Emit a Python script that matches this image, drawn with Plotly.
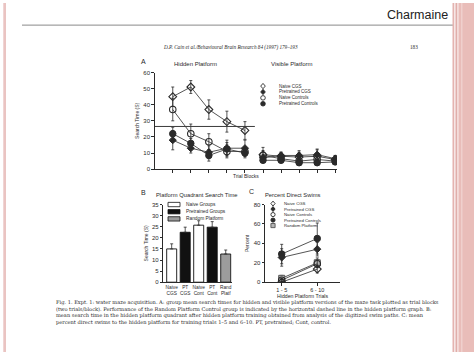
import plotly.graph_objects as go

W, H = 474, 355


def px(x):
    return x / W


def py(y):
    return 1 - y / H


# ---------------- data ----------------
series_names = ["Naive CGS", "Pretrained CGS", "Naive Controls", "Pretrained Controls"]
hidden_blocks = [1, 2, 3, 4, 5]
visible_blocks = [6, 7, 8, 9, 10]

hidden_naive_cgs = [45, 51, 37, 29.5, 24]
hidden_naive_cgs_err = [6, 4, 6, 6.5, 5.5]
hidden_pt_cgs = [18, 13, 10.5, 13, 13]
hidden_pt_cgs_err = [6, 3, 4, 5, 5]
hidden_naive_cont = [37, 22, 17, 11, 11]
hidden_naive_cont_err = [7, 6, 5, 4, 3]
hidden_pt_cont = [22, 16, 8.5, 12.5, 10]
hidden_pt_cont_err = [4, 3, 3.5, 4, 3]

visible_naive_cgs = [9, 8, 7.5, 8, 6]
visible_naive_cgs_err = [4.5, 2.5, 3, 4.5, 2.5]
visible_pt_cgs = [7, 8.5, 8.5, 9, 6.5]
visible_pt_cgs_err = [2, 2, 3, 3, 2]
visible_naive_cont = [8.5, 6.5, 5, 6, 5]
visible_naive_cont_err = [3, 2, 2, 2, 2]
visible_pt_cont = [5.5, 5.5, 4, 4, 4.5]
visible_pt_cont_err = [1.5, 1.5, 1.5, 1.5, 1.5]

random_platform_search_time = 26.5
random_line_blocks = [0, 5.55]

quad_groups = ["Naive<br>CGS", "PT<br>CGS", "Naive<br>Cont", "PT<br>Cont", "Rand<br>Platf"]
quad_positions = [1, 2, 3, 4, 5]
quad_values = [15, 22.5, 25.7, 24.8, 12.7]
quad_err = [2.3, 2.3, 2.0, 2.5, 1.8]
quad_legend = ["Naive Groups", "Pretrained Groups", "Random Platform"]

swim_trials = ["1 - 5", "6 - 10"]
swim_positions = [1, 2]
swim_names = ["Naive CGS", "Pretrained CGS", "Naive Controls", "Pretrained Controls", "Random Platform"]
swim_naive_cgs = [0, 13.5]
swim_naive_cgs_err = [1, 4]
swim_pt_cgs = [25.5, 34]
swim_pt_cgs_err = [9, 7]
swim_naive_cont = [2, 19]
swim_naive_cont_err = [2, 4]
swim_pt_cont = [29, 45]
swim_pt_cont_err = [10, 16]
swim_random = [4, 20]
swim_random_err = [3, 5]

# ---------------- styles ----------------
INK = "#2a2a2a"
SANS = "Liberation Sans, Arial, sans-serif"
SERIF = "Liberation Serif, Times New Roman, serif"
sym = {
    "Naive CGS": dict(symbol="diamond-open", size=6),
    "Pretrained CGS": dict(symbol="diamond", size=5.5),
    "Naive Controls": dict(symbol="circle-open", size=6.5),
    "Pretrained Controls": dict(symbol="circle", size=6.5),
    "Random Platform": dict(symbol="square", size=6),
}

fig = go.Figure()


def add_series(x, y, err, name, xa, ya):
    s = sym[name]
    marker = dict(symbol=s["symbol"], size=s["size"], color=INK,
                  line=dict(color=INK, width=1))
    if name == "Random Platform":
        marker = dict(symbol="square", size=s["size"], color="#b5b5b5",
                      line=dict(color="#555", width=1))
    if s["symbol"].endswith("open"):
        marker["line"]["width"] = 1.1
    fig.add_trace(go.Scatter(
        x=x, y=y, mode="lines+markers", name=name, showlegend=False,
        xaxis=xa, yaxis=ya,
        line=dict(color=INK, width=0.8),
        marker=marker,
        error_y=dict(type="data", array=err, visible=True, color=INK,
                     thickness=0.8, width=1.5),
    ))


# Panel A
add_series(hidden_blocks, hidden_naive_cgs, hidden_naive_cgs_err, "Naive CGS", "x", "y")
add_series(hidden_blocks, hidden_naive_cont, hidden_naive_cont_err, "Naive Controls", "x", "y")
add_series(hidden_blocks, hidden_pt_cgs, hidden_pt_cgs_err, "Pretrained CGS", "x", "y")
add_series(hidden_blocks, hidden_pt_cont, hidden_pt_cont_err, "Pretrained Controls", "x", "y")
add_series(visible_blocks, visible_naive_cgs, visible_naive_cgs_err, "Naive CGS", "x", "y")
add_series(visible_blocks, visible_naive_cont, visible_naive_cont_err, "Naive Controls", "x", "y")
add_series(visible_blocks, visible_pt_cgs, visible_pt_cgs_err, "Pretrained CGS", "x", "y")
add_series(visible_blocks, visible_pt_cont, visible_pt_cont_err, "Pretrained Controls", "x", "y")
fig.add_trace(go.Scatter(
    x=random_line_blocks, y=[random_platform_search_time] * 2, mode="lines",
    xaxis="x", yaxis="y", showlegend=False,
    line=dict(color="#3a3a3a", width=1)))

# Panel B
fig.add_trace(go.Bar(
    x=quad_positions, y=quad_values, xaxis="x2", yaxis="y2", width=0.74,
    marker=dict(color=["white", "#111", "white", "#111", "#9c9c9c"],
                line=dict(color="#111", width=0.9)),
    error_y=dict(type="data", symmetric=False, array=quad_err,
                 arrayminus=[0] * len(quad_err), color=INK, thickness=0.8, width=1.5),
    showlegend=False))

# Panel C
add_series(swim_positions, swim_pt_cont, swim_pt_cont_err, "Pretrained Controls", "x3", "y3")
add_series(swim_positions, swim_pt_cgs, swim_pt_cgs_err, "Pretrained CGS", "x3", "y3")
add_series(swim_positions, swim_random, swim_random_err, "Random Platform", "x3", "y3")
add_series(swim_positions, swim_naive_cont, swim_naive_cont_err, "Naive Controls", "x3", "y3")
add_series(swim_positions, swim_naive_cgs, swim_naive_cgs_err, "Naive CGS", "x3", "y3")

axis_common = dict(showline=True, linecolor=INK, linewidth=0.9, ticks="outside",
                   ticklen=2.5, tickwidth=0.8, tickcolor=INK, showgrid=False,
                   zeroline=False, tickfont=dict(family=SANS, size=6, color=INK))

fig.update_layout(
    width=W, height=H, autosize=False,
    margin=dict(l=0, r=0, t=0, b=0),
    paper_bgcolor="white", plot_bgcolor="rgba(0,0,0,0)",
    showlegend=False,
    xaxis=dict(axis_common, domain=[px(154.7), px(337)], range=[0, 10.1],
               tickvals=hidden_blocks + visible_blocks, showticklabels=False,
               title=dict(text="Trial Blocks", font=dict(family=SANS, size=5, color=INK), standoff=2),
               anchor="y"),
    yaxis=dict(axis_common, domain=[py(169), py(70.7)], range=[0, 60], dtick=10,
               title=dict(text="Search Time (S)", font=dict(family=SANS, size=5, color=INK), standoff=3),
               anchor="x"),
    xaxis2=dict(axis_common, domain=[px(163.3), px(231.8)], range=[0.38, 5.45],
                tickvals=quad_positions, ticktext=quad_groups, ticks="", tickangle=0,
                tickfont=dict(family=SANS, size=4.8, color=INK), anchor="y2"),
    yaxis2=dict(axis_common, domain=[py(284), py(205)], range=[0, 35], dtick=5,
                title=dict(text="Search Time (S)", font=dict(family=SANS, size=5, color=INK), standoff=3),
                anchor="x2"),
    xaxis3=dict(axis_common, domain=[px(265), px(340)], range=[0.53, 2.64],
                tickvals=swim_positions, ticktext=swim_trials, tickangle=0,
                tickfont=dict(family=SANS, size=5.5, color=INK),
                title=dict(text="Hidden Platform Trials", font=dict(family=SANS, size=5.2, color=INK), standoff=1),
                anchor="y3"),
    yaxis3=dict(axis_common, domain=[py(284), py(205)], range=[0, 80], dtick=20,
                title=dict(text="Percent", font=dict(family=SANS, size=5, color=INK), standoff=3),
                anchor="x3"),
)

ann = []


def text(x, y, s, size=6, family=SANS, xanchor="center", color=INK, italic=False, yanchor="middle"):
    ann.append(dict(x=px(x), y=py(y), xref="paper", yref="paper", text=s,
                    showarrow=False, xanchor=xanchor, yanchor=yanchor, align="left",
                    borderpad=0,
                    font=dict(family=family, size=size, color=color,
                              style="italic" if italic else "normal")))


# slide header
text(449, 12, "Charmaine", size=12.5, xanchor="right", color="#222")
text(230, 45, "D.P. Cain et al./Behavioural Brain Research 84 (1997) 179–193",
     size=5.2, family=SERIF, italic=True)
text(414, 45, "183", size=5.2, family=SERIF)

# panel titles / labels
text(143, 60, "A", size=7)
text(195, 62, "Hidden Platform", size=6)
text(292, 62, "Visible Platform", size=6)
text(143, 193, "B", size=7)
text(197, 195, "Platform Quadrant Search Time", size=5.8)
text(252, 192, "C", size=7)
text(293, 195, "Percent Direct Swims", size=5.8)

shapes = []


def key(kind, cx, cy, r=2.3):
    filled = kind in ("Pretrained CGS", "Pretrained Controls")
    fill = INK if filled else "white"
    if kind in ("Naive CGS", "Pretrained CGS"):
        path = "M {},{} L {},{} L {},{} L {},{} Z".format(
            px(cx), py(cy - r - 0.4), px(cx + r), py(cy), px(cx), py(cy + r + 0.4), px(cx - r), py(cy))
        shapes.append(dict(type="path", xref="paper", yref="paper", path=path,
                           fillcolor=fill, line=dict(color=INK, width=0.9)))
    elif kind == "Random Platform":
        shapes.append(dict(type="rect", xref="paper", yref="paper",
                           x0=px(cx - r), x1=px(cx + r), y0=py(cy + r), y1=py(cy - r),
                           fillcolor="#b5b5b5", line=dict(color="#555", width=0.9)))
    else:
        shapes.append(dict(type="circle", xref="paper", yref="paper",
                           x0=px(cx - r), x1=px(cx + r), y0=py(cy + r), y1=py(cy - r),
                           fillcolor=fill, line=dict(color=INK, width=0.9)))


# legend A
for i, name in enumerate(series_names):
    yy = 84.5 + 6.0 * i
    key(name, 263, yy)
    text(277.5, yy, name, size=4.5, xanchor="left")

# legend C
for i, name in enumerate(swim_names):
    yy = 204 + 5.6 * i
    key(name, 273, yy, r=2.1)
    text(282.5, yy, name, size=4.3, xanchor="left")

# legend B
key_fill = ["white", "#111", "#9c9c9c"]
for i, (c, name) in enumerate(zip(key_fill, quad_legend)):
    yy = 205 + 7.3 * i
    shapes.append(dict(type="rect", xref="paper", yref="paper",
                       x0=px(168), x1=px(180), y0=py(yy + 2.2), y1=py(yy - 2.2),
                       fillcolor=c, line=dict(color="#111", width=0.8)))
    text(185, yy, name, size=4.8, xanchor="left")

# caption
caption = [
    "Fig. 1. Expt. 1: water maze acquisition. A: group mean search times for hidden and visible platform versions of the maze task plotted as trial blocks",
    "(two trials/block). Performance of the Random Platform Control group is indicated by the horizontal dashed line in the hidden platform graph. B:",
    "mean search time in the hidden platform quadrant after hidden platform training obtained from analysis of the digitized swim paths. C: mean",
    "percent direct swims to the hidden platform for training trials 1–5 and 6–10. PT, pretrained; Cont, control.",
]
text(55, 300.3, "<br>".join(caption), size=5.1, family="DejaVu Serif, serif",
     xanchor="left", yanchor="top")

# slide decorations
shapes.append(dict(type="line", xref="paper", yref="paper", x0=px(22), x1=px(453),
                   y0=py(22.5), y1=py(22.5), line=dict(color="#8a8a8a", width=1)))
shapes.append(dict(type="rect", xref="paper", yref="paper", x0=px(3.3), x1=px(6),
                   y0=0, y1=1, fillcolor="#eac4c2", line=dict(width=0)))
for x0, x1, c in [(452.5, 454, "#e4b3b0"), (454, 455.5, "#f6e6e5"),
                  (455.5, 457, "#e0aeaa"), (457, 458.5, "#f3dcda"),
                  (458.5, 474, "#e9bdb9"), (461, 462.5, "#f0d0cd")]:
    shapes.append(dict(type="rect", xref="paper", yref="paper", x0=px(x0), x1=px(x1),
                       y0=0, y1=1, fillcolor=c, line=dict(width=0)))

fig.update_layout(annotations=ann, shapes=shapes)
fig.write_html("out.html", config={"displayModeBar": False},
               post_script="document.body.style.margin='0px';document.body.style.overflow='hidden';")
